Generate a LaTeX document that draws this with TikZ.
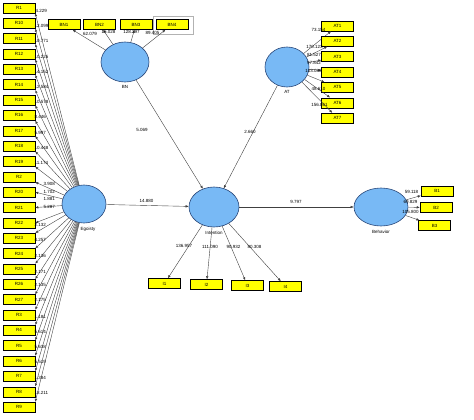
\documentclass[tikz,border=0pt]{standalone}
\usepackage{fontspec}
\setmainfont{Liberation Sans}
\usetikzlibrary{arrows.meta,positioning,shapes.geometric}
\definecolor{myyellow}{RGB}{255,255,0}
\definecolor{myblue}{RGB}{120,185,245}
\definecolor{myedge}{RGB}{40,70,120}
\definecolor{mygray}{gray}{0.25}

\begin{document}
\begin{tikzpicture}[x=1pt,y=-1pt,
  every node/.style={font=\fontsize{4.5}{5}\selectfont},
  ind/.style={draw=black,fill=myyellow,minimum width=32pt,minimum height=10pt,inner sep=0pt,line width=0.5pt},
  lv/.style={ellipse,draw=myedge,fill=myblue,line width=0.6pt,inner sep=0pt},
  val/.style={inner sep=0.5pt},
  arr/.style={mygray,line width=0.4pt,-{Latex[length=3pt,width=2.5pt]}}]
\useasboundingbox (0,0) rectangle (474,420);
% latent variables
\node[lv,minimum width=44pt,minimum height=38pt] (ego) at (84,204) {};
\node[below=0pt of ego,xshift=4pt] (egoname) {Egoisty};
\node[lv,minimum width=50pt,minimum height=40pt] (int) at (214,207) {};
\node[below=0pt of int] (intname) {Intention};
\node[lv,minimum width=48pt,minimum height=40pt] (bn) at (125,62) {};
\node[below=0pt of bn] (bnname) {BN};
\node[lv,minimum width=44pt,minimum height=40pt] (at) at (287,67) {};
\node[below=0pt of at] (atname) {AT};
\node[lv,minimum width=54pt,minimum height=38pt] (beh) at (381,207) {};
\node[below=0pt of beh] (behname) {Behavior};
% egoisty indicators
\foreach \r/\v/\ly/\lx/\tip [count=\i from 0] in {R1/4.229/11/35/south east,R10/12.099/26/34/south east,R11/10.771/41/34/south east,R12/10.225/57/34/south east,R13/14.152/72/34/south east,R14/12.584/87/34/south east,R15/10.578/102/34/south east,R16/8.446/117/34/south east,R17/5.997/133/34/south east,R18/10.448/148/34/south east,R19/11.174/163/34/south east,R2/3.908/184/43/south east,R20/1.702/192/43/east,R21/1.881/199/43/east,R22/5.287/207/43/east,R23/2.132/225/34/north east,R24/4.257/240/34/north east,R25/2.136/256/34/north east,R26/2.171/272/34/north east,R27/2.135/285/34/north east,R3/2.175/300/34/north east,R4/1.181/317/34/north east,R5/5.514/332/34/north east,R6/5.638/347/34/north east,R7/5.519/362/34/north east,R8/1.384/378/34/north east,R9/13.211/393/34/north east}{
  \node[ind] (\r) at (19,{8+15.35*\i}) {\r};
  \draw[arr] (ego) -- (\r.\tip);
  \node[val,anchor=west] (v\r) at (\lx,\ly) {\v};
}
% BN indicators
\draw[gray!60,fill=white] (153,16) rectangle (193,34);
\foreach \b/\v/\x/\lx in {BN1/62.079/64/90,BN2/16.028/99.5/108.5,BN3/128.297/136/131.5,BN4/89.405/172/152.5}{
  \node[ind] (\b) at (\x,24.5) {\b};
  \draw[arr] (bn) -- (\b);
}
\node[val] (vBN1) at (90,34) {62.079};
\node[val] (vBN2) at (108.5,32) {16.028};
\node[val] (vBN3) at (131.5,32) {128.297};
\node[val] (vBN4) at (152.5,33) {89.405};
% AT indicators
\foreach \a/\v/\ly [count=\i from 0] in {AT1/73.154/30,AT2/170.123/47,AT3/81.527/55,AT4/97.842/63,AT5/103.088/71,AT6/48.610/89,AT7/156.861/105}{
  \node[ind] (\a) at (337.5,{26+15.35*\i}) {\a};
  \draw[arr] (at) -- (\a);
}
\node[val] (vAT1) at (318.5,30) {73.154};
\node[val] (vAT2) at (314.5,47) {170.123};
\node[val] (vAT3) at (314,55) {81.527};
\node[val] (vAT4) at (314,63) {97.842};
\node[val] (vAT5) at (313.5,71) {103.088};
\node[val] (vAT6) at (318.5,89) {48.610};
\node[val] (vAT7) at (319.5,105) {156.861};
% behavior indicators
\node[ind] (B1) at (437,191) {B1};
\node[ind] (B2) at (436,207.5) {B2};
\node[ind] (B3) at (434.5,225.5) {B3};
\draw[arr] (beh) -- (B1);
\draw[arr] (beh) -- (B2);
\draw[arr] (beh) -- (B3);
\node[val] (vB1) at (411.5,192) {59.118};
\node[val] (vB2) at (410.5,202) {69.829};
\node[val] (vB3) at (410.5,212) {105.800};
% intention indicators
\node[ind] (I1) at (164.5,283.5) {I1};
\node[ind] (I2) at (206.5,284.5) {I2};
\node[ind] (I3) at (247.5,285.5) {I3};
\node[ind] (I4) at (285.5,286.5) {I4};
\foreach \k in {I1,I2,I3,I4}
  \draw[arr] (int) -- (\k);
\node[val] (vI1) at (184,246) {136.957};
\node[val] (vI2) at (210,247) {111.090};
\node[val] (vI3) at (233.5,247) {90.932};
\node[val] (vI4) at (254.5,247) {80.308};
% structural paths
\draw[arr] (ego) -- (int);
\draw[arr] (bn) -- (int);
\draw[arr] (at) -- (int);
\draw[arr] (int) -- (beh);
\node[val] (vego) at (146.5,201) {14.880};
\node[val] (vbn) at (142,130) {5.069};
\node[val] (vat) at (250,132) {2.660};
\node[val] (vint) at (296,202) {9.797};
\end{tikzpicture}
\end{document}
